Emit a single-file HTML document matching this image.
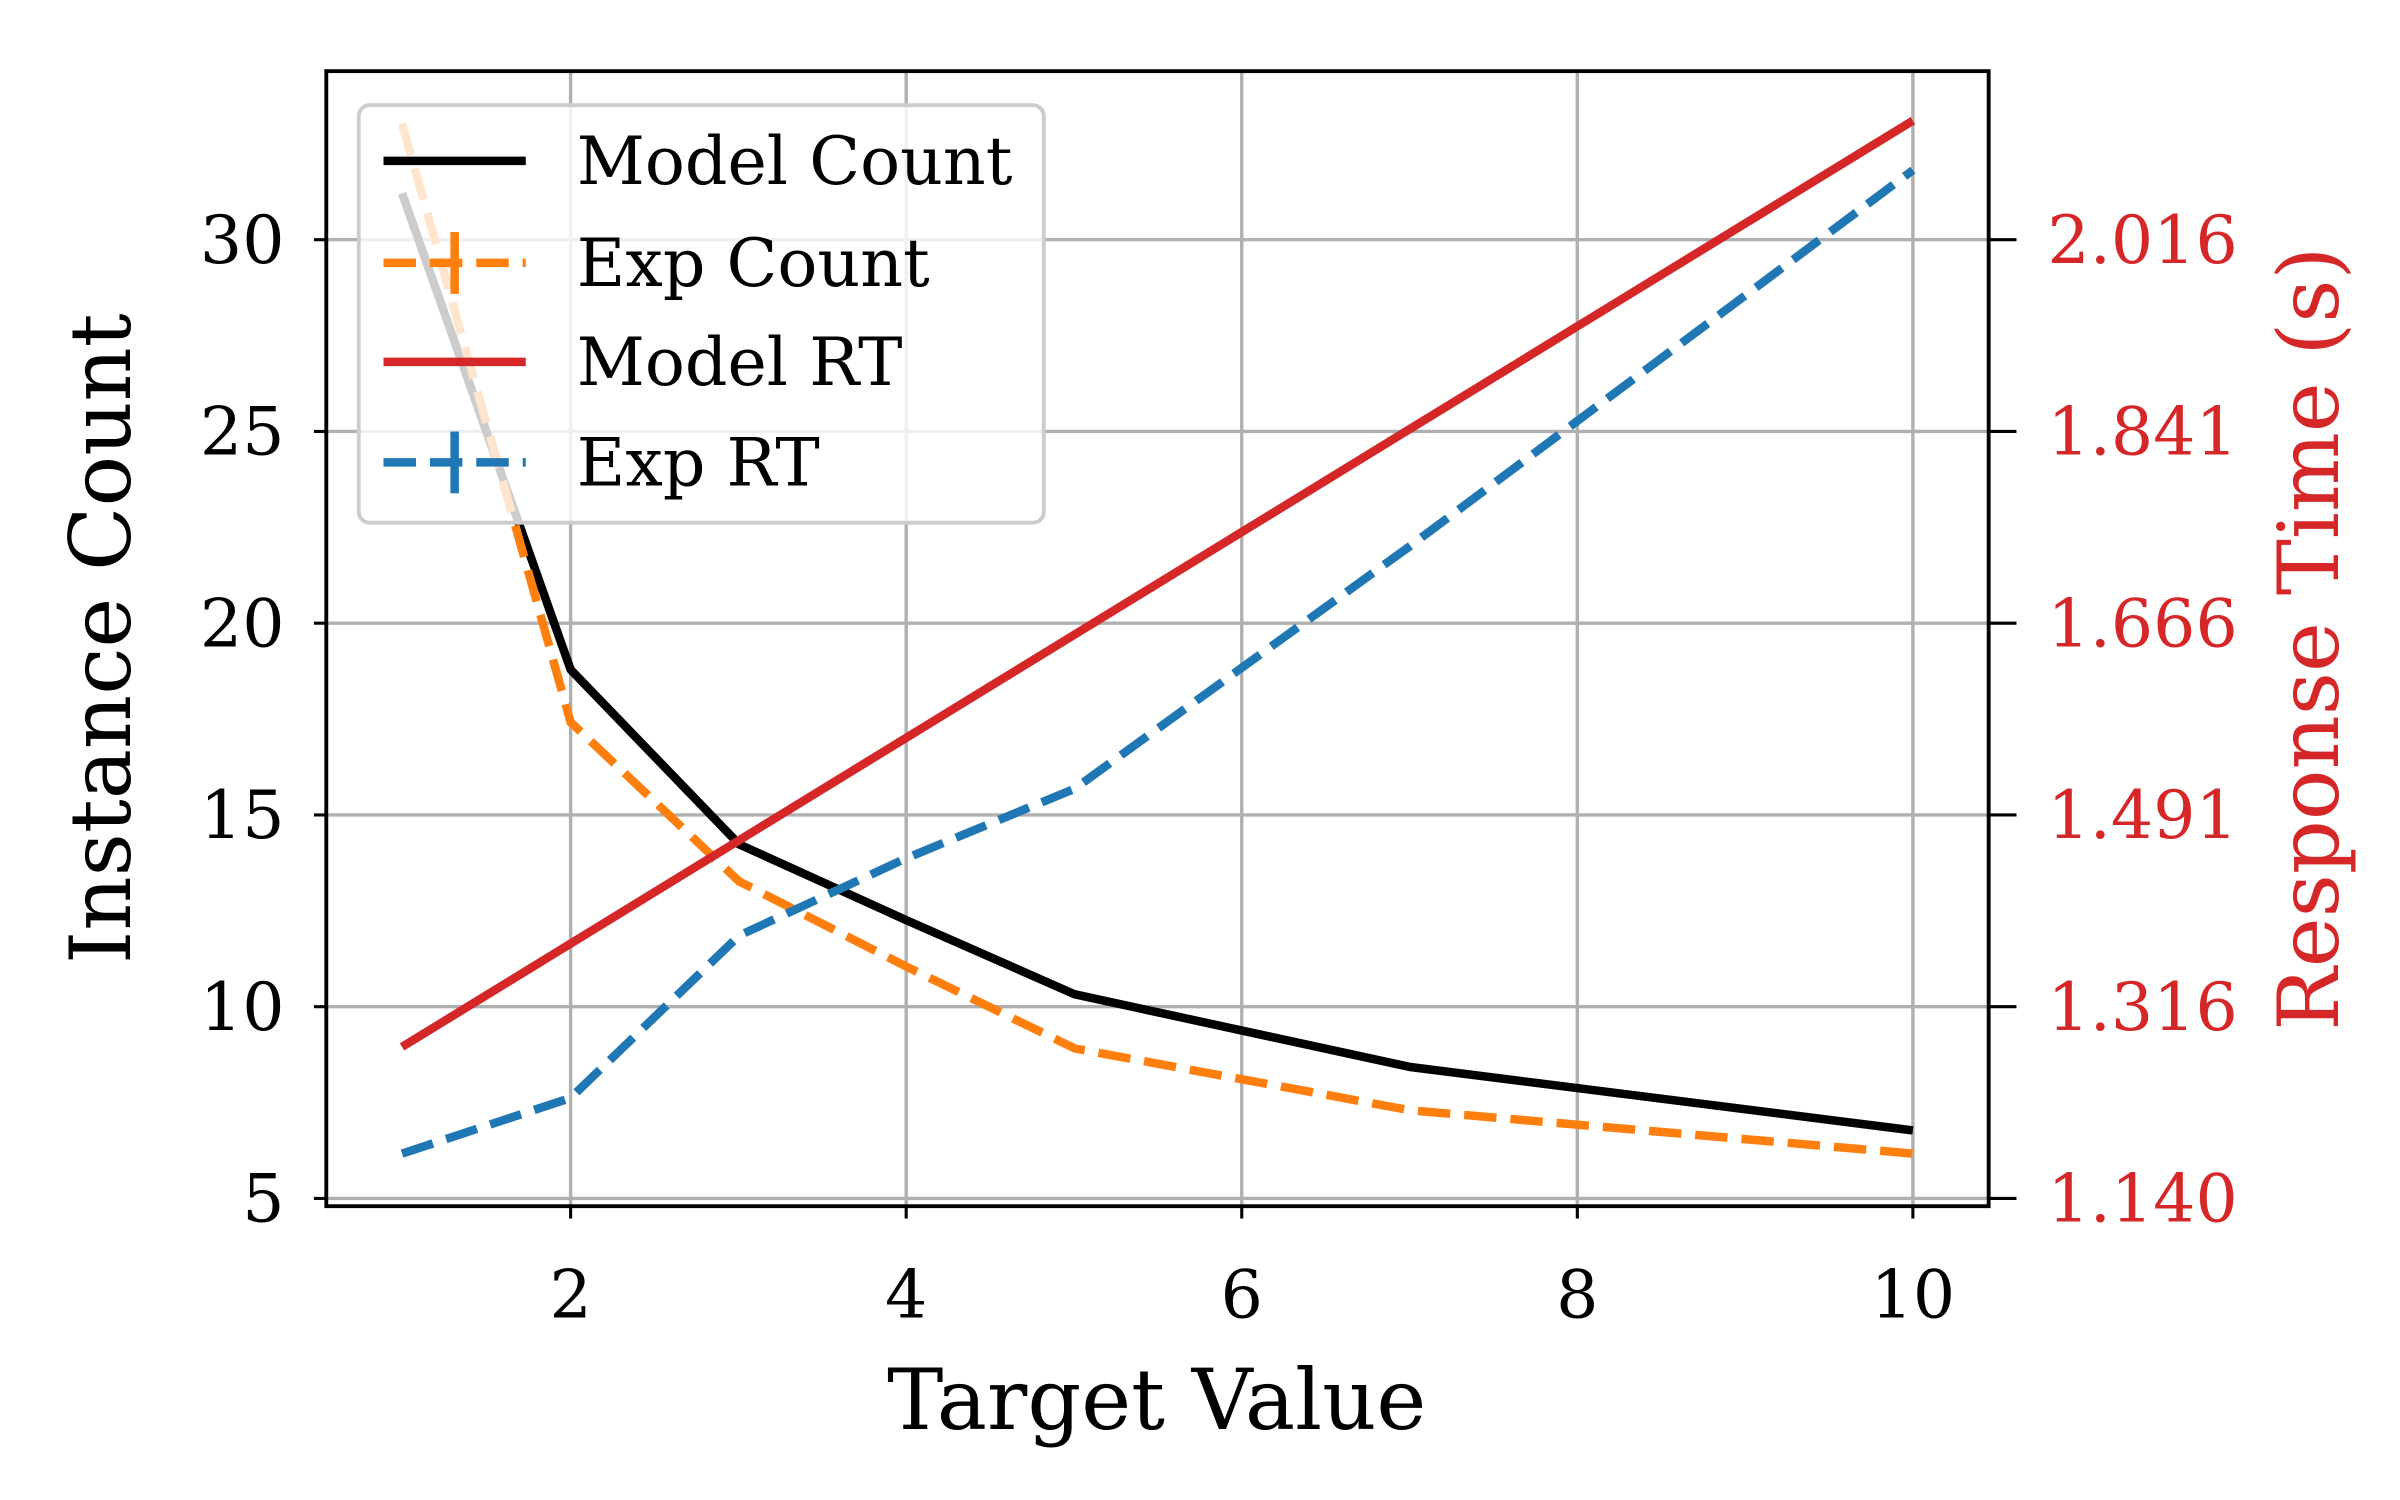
<!DOCTYPE html>
<html><head><meta charset="utf-8"><style>html,body{margin:0;padding:0;background:#fff}svg{display:block}</style></head>
<body>
<svg width="2400" height="1500" viewBox="0 0 1552 970" xmlns="http://www.w3.org/2000/svg" font-family="'DejaVu Serif','Liberation Serif',serif">
<rect width="1552" height="970" fill="#fff"/>
<g stroke="#b0b0b0" stroke-width="2.2">
<line x1="369" y1="46" x2="369" y2="780"/><line x1="586" y1="46" x2="586" y2="780"/><line x1="803" y1="46" x2="803" y2="780"/><line x1="1020" y1="46" x2="1020" y2="780"/><line x1="1237" y1="46" x2="1237" y2="780"/>
<line x1="211" y1="155" x2="1286" y2="155"/><line x1="211" y1="279" x2="1286" y2="279"/><line x1="211" y1="403" x2="1286" y2="403"/><line x1="211" y1="527" x2="1286" y2="527"/><line x1="211" y1="651" x2="1286" y2="651"/><line x1="211" y1="775" x2="1286" y2="775"/>
</g>
<g fill="none" stroke-width="5.5">
<polyline stroke="#000" points="260,125 369,433 478,546 586,595 695,643 912,690 1237,731"/>
<polyline stroke="#ff7f0e" stroke-dasharray="21,9" points="260,80 369,467 478,570 586,625 695,678 912,718 1237,746"/>
<polyline stroke="#d62728" points="260,677 1237,78"/>
<polyline stroke="#1f77b4" stroke-dasharray="21,9" points="260,746 369,710 478,605 586,555 695,510 912,353 1237,110"/>
</g>
<rect x="211" y="46" width="1075" height="734" fill="none" stroke="#000" stroke-width="2.5"/>
<g stroke="#000" stroke-width="2">
<line x1="369" y1="780" x2="369" y2="788"/><line x1="586" y1="780" x2="586" y2="788"/><line x1="803" y1="780" x2="803" y2="788"/><line x1="1020" y1="780" x2="1020" y2="788"/><line x1="1237" y1="780" x2="1237" y2="788"/>
<line x1="203" y1="155" x2="211" y2="155"/><line x1="203" y1="279" x2="211" y2="279"/><line x1="203" y1="403" x2="211" y2="403"/><line x1="203" y1="527" x2="211" y2="527"/><line x1="203" y1="651" x2="211" y2="651"/><line x1="203" y1="775" x2="211" y2="775"/>
<line x1="1286" y1="155" x2="1304" y2="155"/><line x1="1286" y1="279" x2="1304" y2="279"/><line x1="1286" y1="403" x2="1304" y2="403"/><line x1="1286" y1="527" x2="1304" y2="527"/><line x1="1286" y1="651" x2="1304" y2="651"/><line x1="1286" y1="775" x2="1304" y2="775"/>
</g>
<g font-size="43" text-anchor="middle" fill="#000">
<text x="369" y="852">2</text><text x="586" y="852">4</text><text x="803" y="852">6</text><text x="1020" y="852">8</text><text x="1237" y="852">10</text>
</g>
<g font-size="43" text-anchor="end" fill="#000">
<text x="184" y="170">30</text><text x="184" y="294">25</text><text x="184" y="418">20</text><text x="184" y="542">15</text><text x="184" y="666">10</text><text x="184" y="790">5</text>
</g>
<g font-size="43" fill="#d62728">
<text x="1324" y="170">2.016</text><text x="1324" y="294">1.841</text><text x="1324" y="418">1.666</text><text x="1324" y="542">1.491</text><text x="1324" y="666">1.316</text><text x="1324" y="790">1.140</text>
</g>
<text x="748" y="924" font-size="54.5" text-anchor="middle">Target Value</text>
<text transform="translate(84,413) rotate(-90)" font-size="54.5" text-anchor="middle">Instance Count</text>
<text transform="translate(1512,413) rotate(-90)" font-size="54.5" text-anchor="middle" fill="#d62728">Response Time (s)</text>
<rect x="232" y="68" width="443" height="270" rx="7" fill="#fff" fill-opacity="0.8" stroke="#ccc" stroke-width="2.5"/>
<g stroke-width="5.5" fill="none">
<line x1="248" y1="104" x2="340" y2="104" stroke="#000"/>
<line x1="248" y1="170" x2="340" y2="170" stroke="#ff7f0e" stroke-dasharray="21,9"/>
<line x1="294" y1="150" x2="294" y2="190" stroke="#ff7f0e"/>
<line x1="248" y1="234" x2="340" y2="234" stroke="#d62728"/>
<line x1="248" y1="299" x2="340" y2="299" stroke="#1f77b4" stroke-dasharray="21,9"/>
<line x1="294" y1="279" x2="294" y2="319" stroke="#1f77b4"/>
</g>
<g font-size="43" fill="#000">
<text x="373" y="119">Model Count</text><text x="373" y="185">Exp Count</text><text x="373" y="249">Model RT</text><text x="373" y="314">Exp RT</text>
</g>
</svg>
</body></html>
